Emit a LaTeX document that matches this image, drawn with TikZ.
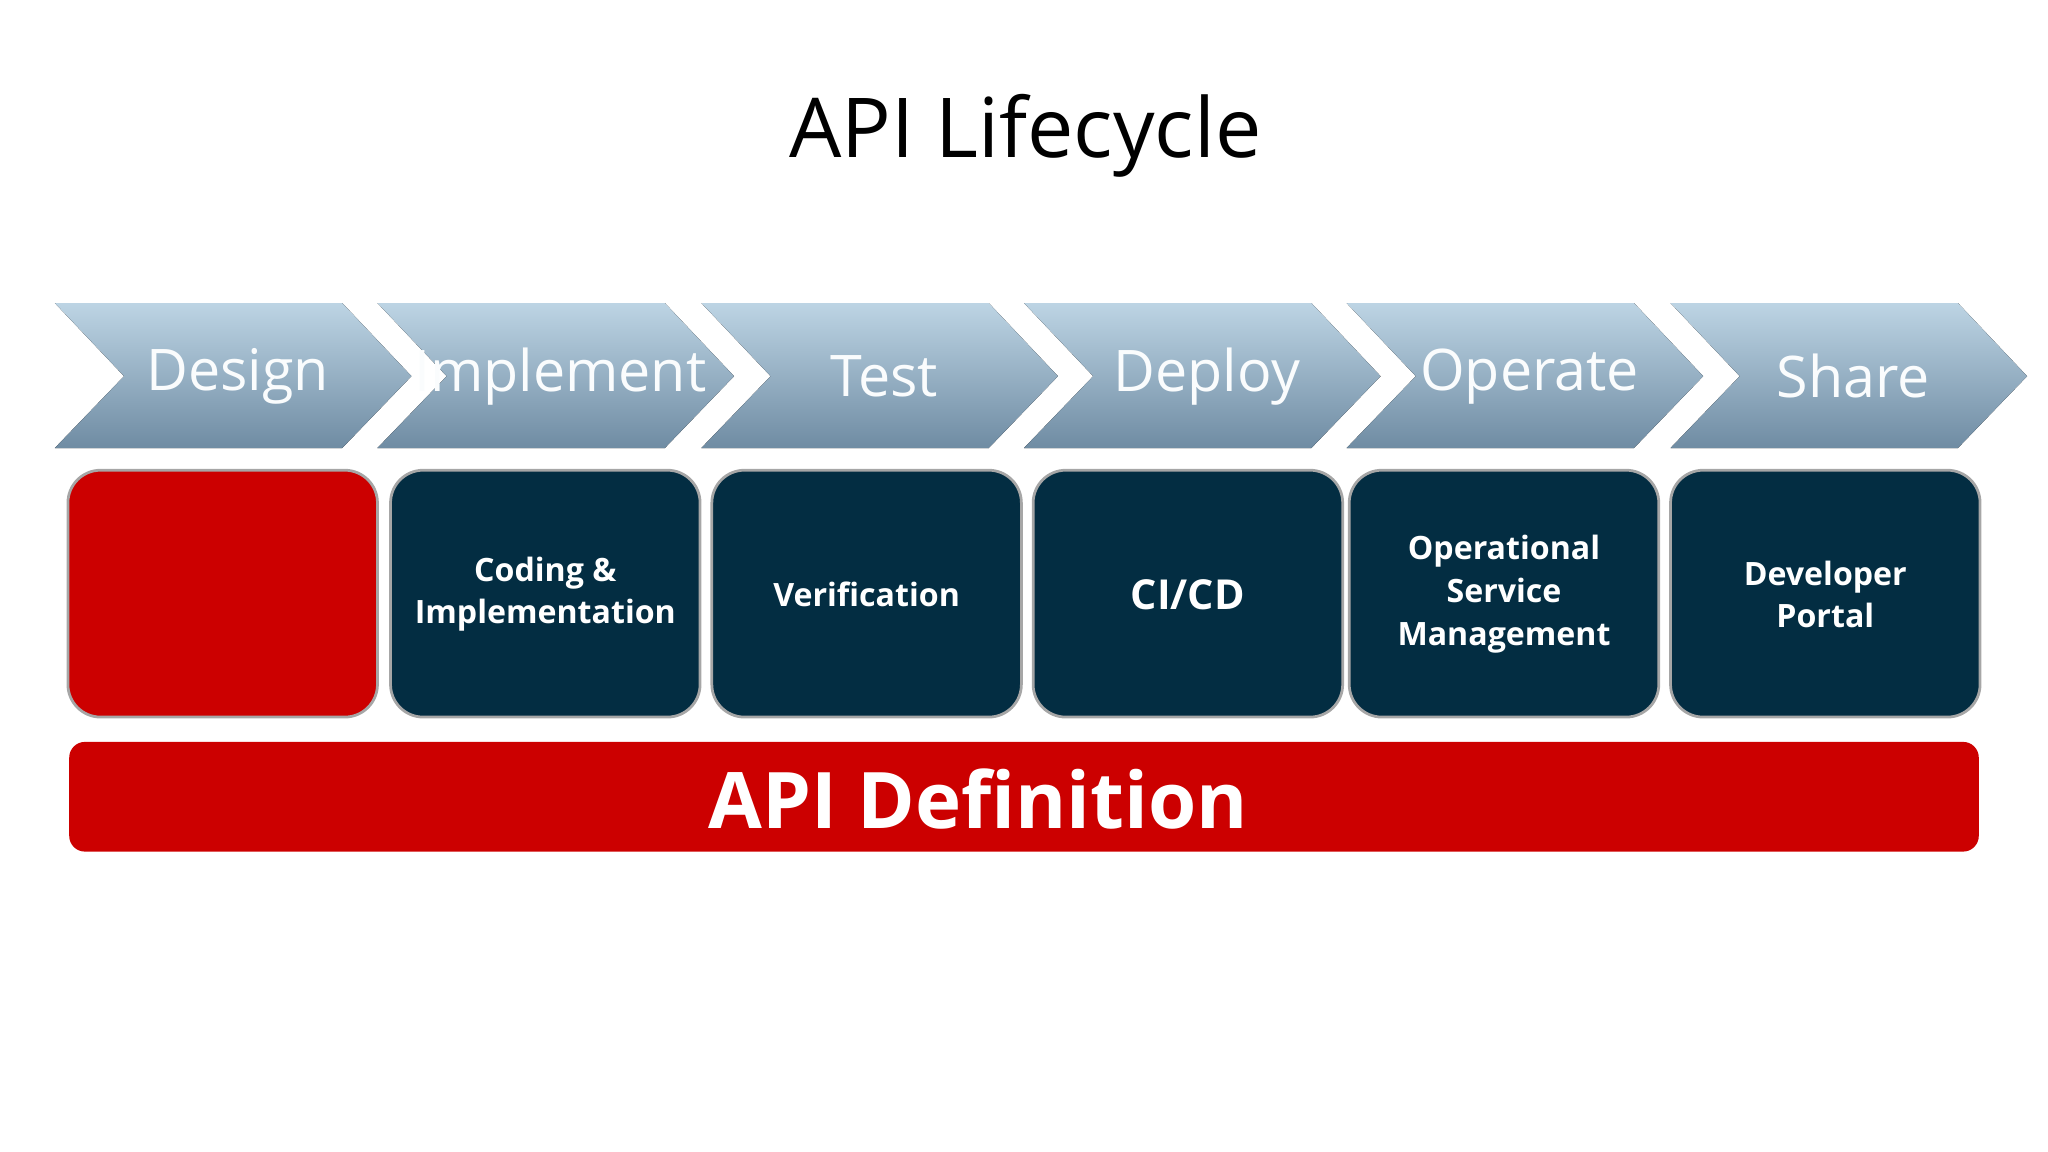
\documentclass[tikz,border=0pt]{standalone}
\usepackage{fontspec}
\setmainfont{Open Sans}
\begin{document}
\begin{tikzpicture}[x=0.1mm,y=-0.1mm,
 chev/.style={top color=chevtop,bottom color=chevbot,draw=none},
 chevtxt/.style={text=white!92!chevtop,font=\fontsize{12.5}{14}\selectfont},
 box/.style={draw=gray!70,line width=0.6pt,rounded corners=2.5mm,fill=boxblue},
 boxtxt/.style={text=white,font=\bfseries\fontsize{7}{9.3}\selectfont,align=center}]
\definecolor{chevtop}{HTML}{BDD4E4}
\definecolor{chevbot}{HTML}{6F8CA3}
\definecolor{boxblue}{HTML}{032D42}
\definecolor{rhred}{HTML}{CC0000}
\useasboundingbox (0,0) rectangle (1568,882);
\node (title) at (785,104) {\fontsize{18}{20}\selectfont API Lifecycle};
\foreach \i/\x/\t in {0/42/Design,1/289/Implement,2/537/Test,3/784/Deploy,4/1031/Operate,5/1279/Share}{
 \fill[chev] (\x,232) -- ++(220,0) -- ++(53,56) -- ++(-53,55) -- ++(-220,0) -- ++(53,-55) -- cycle;
 \node[chevtxt] (c\i) at (\x+140,288) {\t};
}
\draw[box,fill=rhred] (52,360) rectangle (289,549);
\node (b0) at (170,455) {};
\foreach \i/\x/\t in {1/299/{Coding \&\\Implementation},2/545/Verification,3/791/{\fontsize{9}{11}\selectfont CI/CD},4/1033/{Operational\\Service\\Management},5/1279/{Developer\\Portal}}{
 \draw[box] (\x,360) rectangle (\x+237,549);
 \node[boxtxt] (b\i) at (\x+118.5,455) {\t};
}
\fill[rhred,rounded corners=1.2mm] (53,568) rectangle (1515,652);
\node[text=white,font=\bfseries\fontsize{17}{19}\selectfont] (def) at (749,612) {API Definition};
\end{tikzpicture}
\end{document}
